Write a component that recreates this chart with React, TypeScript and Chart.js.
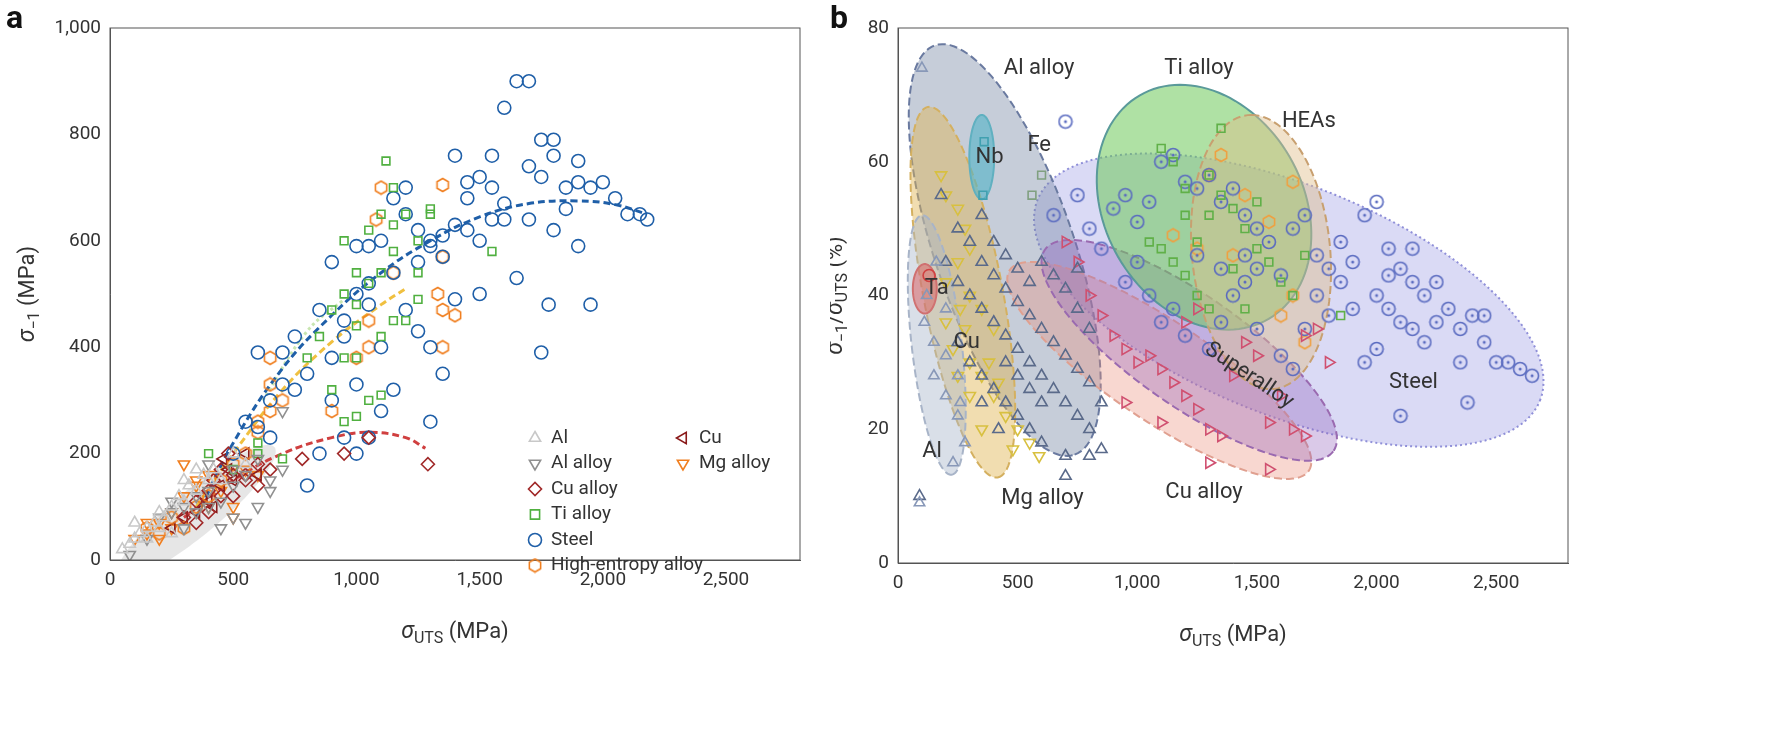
import React, { useEffect, useRef } from "react";
import { Chart, registerables } from "chart.js";
import { drawPoint } from "chart.js/helpers";
Chart.register(...registerables);

type P = [number, number];
// ---------- Panel a data ----------
const alA: P[] = [[50,20],[80,30],[100,40],[120,50],[150,60],[180,70],[200,90],[220,80],[250,100],[280,120],[300,110],[320,140],[350,130],[380,160],[400,150],[420,170],[450,150],[500,200],[550,180],[100,70],[150,40],[200,60],[250,50],[300,150],[350,170]];
const alAlloyA: P[] = [[80,10],[150,40],[200,80],[250,90],[300,100],[350,120],[400,130],[450,110],[500,140],[550,160],[600,190],[650,150],[700,170],[600,100],[650,130],[700,280],[550,70],[450,60],[400,100],[500,80],[300,60],[350,90],[250,110],[400,180],[500,170]];
const cuAlloyA: P[] = [[300,80],[350,110],[400,130],[420,150],[450,170],[480,200],[500,160],[550,150],[600,180],[650,170],[780,190],[950,200],[1050,230],[1290,180],[400,90],[450,120],[500,120],[550,160],[600,140],[350,70]];
const tiA: P[] = [[900,470],[950,600],[1000,540],[1050,520],[1100,650],[1120,750],[1150,700],[1200,650],[1250,600],[1300,650],[1150,580],[950,380],[1000,380],[1100,420],[1250,490],[1300,660],[1050,300],[1100,310],[1150,450],[1200,450],[1550,580],[1000,440],[900,320],[950,260],[850,420],[800,380],[1000,270],[1100,540],[1250,540],[600,200],[600,220],[400,200],[500,170],[700,190],[1050,620],[1150,630],[950,500],[1000,480]];
const steelA: P[] = [[700,390],[750,420],[800,350],[850,470],[900,560],[950,450],[1000,500],[1050,590],[1100,600],[1150,680],[1200,650],[1250,620],[1300,600],[1350,570],[1400,760],[1450,680],[1500,720],[1550,760],[1600,640],[1650,900],[1700,900],[1600,850],[1750,790],[1800,760],[1850,700],[1900,750],[1950,700],[2000,710],[2050,680],[2100,650],[2150,650],[2180,640],[1750,390],[1780,480],[1900,590],[1950,480],[1000,200],[950,230],[1050,230],[1100,280],[1150,320],[1300,260],[1300,400],[1350,350],[1250,430],[800,140],[850,200],[600,250],[650,300],[700,330],[600,390],[500,200],[550,260],[900,300],[1000,590],[1050,480],[1200,700],[1400,490],[1500,500],[1550,700],[1650,530],[1700,640],[1800,620],[1850,660],[1900,710],[1700,740],[1800,790],[1600,670],[1450,620],[1350,610],[1250,560],[1150,540],[1050,520],[950,420],[900,380],[750,320],[650,230],[1000,330],[1100,400],[1200,470],[1450,710],[1500,600],[1550,640],[1300,590],[1400,630],[1750,720]];
const heaA: P[] = [[300,60],[350,100],[400,120],[450,150],[500,180],[550,200],[600,240],[650,280],[700,300],[650,380],[1100,700],[1350,705],[1080,640],[1150,540],[1350,570],[1330,500],[1350,470],[1400,460],[1050,400],[1050,450],[1000,380],[900,280],[1350,400],[200,50],[250,80],[150,60],[650,330],[600,260]];
const cuA: P[] = [[250,60],[300,80],[350,90],[400,110],[450,140],[480,170],[500,150],[550,200],[600,160],[420,100],[380,120],[460,190]];
const mgA: P[] = [[100,40],[150,50],[200,70],[250,90],[300,120],[350,140],[400,160],[450,130],[500,100],[500,80],[300,180],[350,150],[250,60],[200,40],[400,100],[150,70],[600,160],[550,170]];
const steelFit: P[] = [[350,80],[500,220],[700,360],[900,460],[1100,540],[1300,600],[1500,645],[1700,670],[1900,675],[2050,668],[2180,650]];
const tiFit: P[] = [[620,300],[800,430],[950,490]];
const heaFit: P[] = [[350,100],[500,200],[700,320],[900,410],[1100,480],[1200,510]];
const cuFit: P[] = [[300,80],[500,150],[700,200],[900,230],[1050,240],[1200,230],[1280,210]];
const xTicks = [0, 500, 1000, 1500, 2000, 2500];

// ---------- Panel b data ----------
const steelB: P[] = [[700,66],[650,52],[750,55],[800,50],[850,47],[900,53],[950,55],[1000,51],[1050,54],[1100,60],[1150,61],[1200,57],[1250,56],[1300,58],[1350,54],[1400,56],[1450,52],[1500,50],[1550,48],[1000,45],[950,42],[1050,40],[1100,36],[1150,38],[1200,34],[1300,32],[1350,36],[1400,40],[1450,42],[1500,35],[1600,31],[1650,29],[1700,35],[1750,40],[1800,44],[1850,48],[1900,45],[1950,52],[2000,54],[2050,47],[2100,44],[2150,42],[2200,40],[2050,38],[2100,36],[2150,35],[2200,33],[2250,36],[2300,38],[2350,35],[2400,37],[2450,33],[2500,30],[2550,30],[2600,29],[2650,28],[2380,24],[2100,22],[1950,30],[2000,32],[1900,38],[2000,40],[1850,42],[1800,37],[1600,43],[1250,46],[1350,44],[1450,46],[1500,44],[1650,50],[1700,52],[1750,46],[2350,30],[2450,37],[2250,42],[2150,47],[2050,43]];
const tiB: P[] = [[1050,48],[1100,47],[1150,45],[1200,43],[1250,48],[1300,52],[1350,55],[1400,53],[1450,50],[1500,47],[1550,45],[1100,62],[1150,60],[1200,56],[1300,58],[1350,65],[1250,40],[1300,38],[1400,44],[1450,38],[1600,42],[1650,40],[1700,46],[1850,37],[1200,52],[1500,54]];
const heaB: P[] = [[1350,61],[1300,58],[1450,55],[1550,51],[1650,40],[1600,37],[1700,33],[1400,46],[1150,49],[1250,47],[1650,57]];
const alAlloyB: P[] = [[180,55],[250,50],[300,48],[350,45],[400,43],[450,41],[500,39],[550,37],[600,35],[650,33],[700,31],[750,29],[800,27],[850,24],[300,40],[350,38],[400,36],[450,34],[500,32],[550,30],[600,28],[650,26],[700,24],[750,22],[800,20],[850,17],[250,33],[300,30],[350,28],[400,26],[450,24],[500,22],[550,20],[600,18],[700,16],[400,48],[450,46],[500,44],[550,42],[600,45],[650,43],[700,41],[750,38],[800,35],[200,45],[250,42],[350,52],[450,30],[500,28],[550,26],[600,24],[700,13],[90,10],[800,16],[750,44],[350,24],[420,20]];
const mgB: P[] = [[180,58],[200,55],[250,53],[280,50],[300,47],[250,45],[200,42],[300,40],[350,38],[400,35],[280,35],[230,32],[300,30],[350,28],[400,25],[450,22],[500,20],[550,18],[480,17],[300,25],[250,28],[380,30],[420,27],[350,20],[590,16],[200,36],[260,38]];
const cuAlloyB: P[] = [[700,48],[750,45],[800,40],[850,37],[900,34],[950,32],[1000,30],[1050,31],[1100,29],[1150,27],[1200,25],[1250,23],[1300,20],[1350,19],[1400,28],[1450,33],[1500,31],[1550,21],[1600,25],[1650,20],[1700,19],[1750,35],[1800,30],[1300,15],[1550,14],[950,24],[1100,21],[1200,36],[1250,38],[1700,34]];
const alB: P[] = [[100,74],[110,36],[150,33],[200,31],[250,28],[200,25],[250,22],[280,18],[230,15],[90,9],[120,40],[160,45],[200,38],[150,28],[260,24]];
const nbB: P[] = [[360,63],[355,55]];
const taB: P[] = [[130,43]];
const feB: P[] = [[600,58],[560,55]];

// ellipses for panel b: center, half-axis A, half-axis B (data units)
const ellCenter: P[] = [[1633,39.3],[446,46.8],[1092,28.8],[1217,31.8],[271,40.5],[1279,53.2],[1517,46.5],[162,32.6],[350,60.7],[112,41]];
const ellA: P[] = [[1050,-15],[292,-30.6],[625,-15],[604,-15],[146,-27.7],[270,-16.7],[-40,20.5],[62,-19.4],[0,6.3],[0,3.7]];
const ellB: P[] = [[177,16],[275,3.4],[115,6.2],[128,6.9],[163,1.1],[358,7.5],[290,0],[104,0.4],[52,0],[50,0]];
const ellFill = ["rgba(150,150,225,0.35)","rgba(120,135,165,0.42)","rgba(235,140,120,0.35)","rgba(150,100,190,0.35)","rgba(225,180,80,0.45)","rgba(110,200,90,0.55)","rgba(225,190,140,0.45)","rgba(170,185,205,0.45)","rgba(80,180,200,0.6)","rgba(220,90,90,0.5)"];
const ellStroke = ["#8f8fd8","#6a7aa0","#e0a090","#9a6ab0","#d4b060","#5a9a9a","#c8a070","#a8b4c8","#60b0c0","#d07070"];
const ellDash = [[2,3],[8,4],[8,4],[8,4],[8,4],[],[8,4],[8,4],[],[]];
const bLabels = ["Al alloy","Ti alloy","HEAs","Nb","Fe","Ta","Cu","Al","Mg alloy","Cu alloy","Superalloy","Steel"];
const bLabelPos: P[] = [[590,74],[1258,74],[1717,66],[383,60.7],[590,62.5],[162,41],[287,33],[142,16.6],[604,9.7],[1279,10.6],[1467,28],[2154,27]];
const bLabelRot = [0,0,0,0,0,0,0,0,0,0,34,0];

const legendLabels = ["Al","Al alloy","Cu alloy","Ti alloy","Steel","High-entropy alloy","Cu","Mg alloy"];

function marker(kind: string, color: string, size = 16): HTMLCanvasElement {
  const c = document.createElement("canvas");
  c.width = size; c.height = size;
  const g = c.getContext("2d")!;
  g.strokeStyle = color; g.lineWidth = 1.6;
  const r = size / 2 - 1.5, m = size / 2;
  g.beginPath();
  if (kind === "hex") {
    for (let i = 0; i < 6; i++) { const a = Math.PI / 6 + i * Math.PI / 3; const x = m + r * Math.cos(a), y = m + r * Math.sin(a); i ? g.lineTo(x, y) : g.moveTo(x, y); }
    g.closePath(); g.stroke();
  } else if (kind === "cdot") {
    g.arc(m, m, r, 0, Math.PI * 2); g.stroke();
    g.beginPath(); g.fillStyle = color; g.arc(m, m, 1.5, 0, Math.PI * 2); g.fill();
  }
  return c;
}

const ellipsePlugin = {
  id: "ellipses",
  beforeDatasetsDraw(chart: any, _a: any, opts: any) {
    if (!opts || !opts.items) return;
    const { ctx, scales: { x, y } } = chart;
    ctx.save();
    ctx.beginPath(); ctx.rect(chart.chartArea.left, chart.chartArea.top, chart.chartArea.width, chart.chartArea.height); ctx.clip();
    for (const e of opts.items) {
      ctx.beginPath();
      for (let i = 0; i <= 120; i++) {
        const t = (i / 120) * Math.PI * 2;
        const dx = e.c[0] + e.a[0] * Math.cos(t) + e.b[0] * Math.sin(t);
        const dy = e.c[1] + e.a[1] * Math.cos(t) + e.b[1] * Math.sin(t);
        const px = x.getPixelForValue(dx), py = y.getPixelForValue(dy);
        i ? ctx.lineTo(px, py) : ctx.moveTo(px, py);
      }
      ctx.closePath();
      ctx.fillStyle = e.fill; ctx.fill();
      ctx.setLineDash(e.dash); ctx.strokeStyle = e.stroke; ctx.lineWidth = 2; ctx.stroke();
    }
    ctx.restore();
  },
};

const font = "Roboto, 'Open Sans', sans-serif";
const framePlugin = {
  id: "frame",
  afterDraw(chart: any, _a: any, opts: any) {
    const { ctx, chartArea: ca } = chart;
    ctx.save();
    ctx.strokeStyle = "#555"; ctx.lineWidth = 1; ctx.setLineDash([]);
    ctx.strokeRect(ca.left, ca.top, ca.width, ca.height);
    ctx.fillStyle = "#333";
    const drawParts = (cx: number, cy: number, rot: number, parts: [string, string, number][]) => {
      ctx.save(); ctx.translate(cx, cy); ctx.rotate(rot);
      let tot = 0; for (const p of parts) { ctx.font = p[1]; tot += ctx.measureText(p[0]).width; }
      let x0 = -tot / 2; ctx.textBaseline = "middle"; ctx.textAlign = "left";
      for (const p of parts) { ctx.font = p[1]; ctx.fillText(p[0], x0, p[2]); x0 += ctx.measureText(p[0]).width; }
      ctx.restore();
    };
    const S = `italic 23px ${font}`, SUB = `16px ${font}`, N = `22px ${font}`;
    drawParts((ca.left + ca.right) / 2, ca.bottom + 72, 0, [["σ", S, 0], ["UTS", SUB, 7], [" (MPa)", N, 0]]);
    if (opts.yTitle === "a") {
      drawParts(ca.left - 82, (ca.top + ca.bottom) / 2, -Math.PI / 2, [["σ", S, 0], ["−1", SUB, 7], [" (MPa)", N, 0]]);
    } else {
      drawParts(ca.left - 62, (ca.top + ca.bottom) / 2, -Math.PI / 2, [["σ", S, 0], ["−1", SUB, 7], ["/", N, 0], ["σ", S, 0], ["UTS", SUB, 7], [" (%)", N, 0]]);
    }
    ctx.font = `bold 32px ${font}`; ctx.fillStyle = "#111"; ctx.textAlign = "left"; ctx.textBaseline = "top";
    ctx.fillText(opts.letter, opts.letterX, 4);
    if (opts.labels) {
      const { x, y } = chart.scales;
      ctx.font = `22px ${font}`; ctx.fillStyle = "#333"; ctx.textAlign = "center"; ctx.textBaseline = "middle";
      opts.labels.forEach((t: string, i: number) => {
        ctx.save(); ctx.translate(x.getPixelForValue(opts.pos[i][0]), y.getPixelForValue(opts.pos[i][1])); ctx.rotate((opts.rot[i] * Math.PI) / 180);
        ctx.fillText(t, 0, 0); ctx.restore();
      });
    }
    if (opts.legend) {
      const items = opts.legend as { label: string; ds: number }[];
      items.forEach((it, i) => {
        const col = i < 6 ? 0 : 1; const row = i < 6 ? i : i - 6;
        const lx = ca.left + (col ? 573 : 425); const ly = ca.top + 410 + row * 25.5;
        const ds = chart.data.datasets[it.ds];
        const ps = ds.pointStyle;
        ctx.save();
        if (typeof ps === "string") {
          ctx.strokeStyle = ds.borderColor; ctx.fillStyle = "rgba(0,0,0,0)"; ctx.lineWidth = 1.6;
          drawPoint(ctx, { pointStyle: ps, radius: 6.5, rotation: ds.rotation || 0, borderWidth: 1.6 } as any, lx, ly);
        } else { ctx.drawImage(ps, lx - 8, ly - 8); }
        ctx.restore();
        ctx.font = `19px ${font}`; ctx.fillStyle = "#333"; ctx.textAlign = "left"; ctx.textBaseline = "middle";
        ctx.fillText(it.label, lx + 16, ly);
      });
    }
    ctx.restore();
  },
};

const pts = (a: P[]) => a.map(([x, y]) => ({ x, y }));
const sc = (label: string, data: P[], color: string, pointStyle: any, rotation = 0, radius = 6.5) => ({
  type: "scatter" as const, label, data: pts(data), borderColor: color, backgroundColor: "rgba(0,0,0,0)",
  pointStyle, rotation, pointRadius: radius, borderWidth: 1.6, showLine: false,
});
const ln = (data: P[], color: string, dash: number[]) => ({
  type: "line" as const, label: "", data: pts(data), borderColor: color, borderDash: dash, borderWidth: 3,
  pointRadius: 0, tension: 0.4, fill: false,
});

const tickFont = { family: font, size: 19 };
const fmt = (v: any) => Number(v).toLocaleString("en-US");

function baseScales(ymax: number, ystep: number, yh: number, yw: number) {
  return {
    x: { type: "linear", min: 0, max: 2800, grid: { display: false, drawTicks: true, tickLength: 6, color: "#555" }, border: { color: "#555" },
      ticks: { callback: fmt, font: tickFont, color: "#333" },
      afterBuildTicks: (s: any) => { s.ticks = xTicks.map((v) => ({ value: v })); },
      afterFit: (s: any) => { s.height = yh; } },
    y: { type: "linear", min: 0, max: ymax, grid: { display: false, tickLength: 6, color: "#555" }, border: { color: "#555" },
      ticks: { stepSize: ystep, callback: fmt, font: tickFont, color: "#333" },
      afterFit: (s: any) => { s.width = yw; } },
  };
}

export default function App() {
  const ra = useRef<HTMLCanvasElement>(null);
  const rb = useRef<HTMLCanvasElement>(null);
  useEffect(() => {
    const hexO = marker("hex", "#f07f20");
    const cdot = marker("cdot", "#5a6bc0");
    const hexB = marker("hex", "#f0a040");
    const ca = new Chart(ra.current!, {
      type: "scatter",
      data: { datasets: [
        sc("Al", alA, "#c8c8c8", "triangle"),
        sc("Al alloy", alAlloyA, "#909090", "triangle", 180),
        sc("Cu alloy", cuAlloyA, "#a02828", "rectRot"),
        sc("Ti alloy", tiA, "#50b040", "rect", 0, 5.5),
        sc("Steel", steelA, "#1f5fa8", "circle"),
        sc("High-entropy alloy", heaA, "#f07f20", hexO),
        sc("Cu", cuA, "#8a1a1a", "triangle", -90),
        sc("Mg alloy", mgA, "#f07f20", "triangle", 180),
        ln(steelFit, "#1f5fa8", [7, 4]),
        ln(tiFit, "#c8e6b0", [3, 3]),
        ln(heaFit, "#f0c040", [7, 4]),
        ln(cuFit, "#d04040", [7, 4]),
      ] as any },
      options: {
        animation: false, responsive: false, maintainAspectRatio: false,
        layout: { padding: { left: 0, top: 28, right: 30, bottom: 0 } },
        scales: baseScales(1000, 200, 176, 110) as any,
        plugins: { legend: { display: false }, tooltip: { enabled: false },
          ellipses: { items: [{ c: [350, 90], a: [320, 120], b: [-40, 40], fill: "rgba(200,200,200,0.45)", stroke: "rgba(0,0,0,0)", dash: [] }] },
          frame: { letter: "a", letterX: 6, yTitle: "a", legend: legendLabels.map((l, i) => ({ label: l, ds: i })) } } as any,
      },
      plugins: [ellipsePlugin, framePlugin],
    });
    const cb = new Chart(rb.current!, {
      type: "scatter",
      data: { datasets: [
        sc("Al", alB, "#8898b8", "triangle", 0, 6),
        sc("Al alloy", alAlloyB, "#5a6a8a", "triangle", 0, 6.5),
        sc("Mg alloy", mgB, "#d8c040", "triangle", 180, 6.5),
        sc("Cu alloy", cuAlloyB, "#d05070", "triangle", 90, 6.5),
        sc("Ti alloy", tiB, "#60b048", "rect", 0, 5.5),
        sc("Steel", steelB, "#5a6bc0", cdot),
        sc("HEA", heaB, "#f0a040", hexB),
        sc("Nb", nbB, "#40a0b0", "rect", 0, 5.5),
        sc("Ta", taB, "#d04040", "circle", 0, 6),
        sc("Fe", feB, "#80a080", "rect", 0, 5.5),
      ] as any },
      options: {
        animation: false, responsive: false, maintainAspectRatio: false,
        layout: { padding: { left: 0, top: 28, right: 218, bottom: 0 } },
        scales: baseScales(80, 20, 173, 68) as any,
        plugins: { legend: { display: false }, tooltip: { enabled: false },
          ellipses: { items: ellCenter.map((c, i) => ({ c, a: ellA[i], b: ellB[i], fill: ellFill[i], stroke: ellStroke[i], dash: ellDash[i] })) },
          frame: { letter: "b", letterX: 0, yTitle: "b", labels: bLabels, pos: bLabelPos, rot: bLabelRot } } as any,
      },
      plugins: [ellipsePlugin, framePlugin],
    });
    return () => { ca.destroy(); cb.destroy(); };
  }, []);
  return (
    <div style={{ position: "absolute", left: 0, top: 0, width: 1786, height: 736, background: "#fff" }}>
      <canvas ref={ra} width={830} height={736} style={{ position: "absolute", left: 0, top: 0 }} />
      <canvas ref={rb} width={956} height={736} style={{ position: "absolute", left: 830, top: 0 }} />
    </div>
  );
}
